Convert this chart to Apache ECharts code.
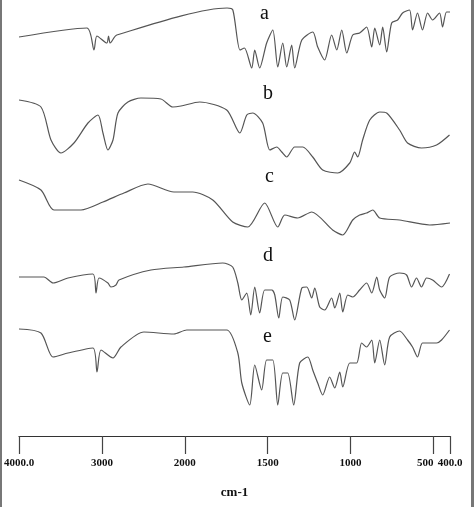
<!DOCTYPE html>
<html><head><meta charset="utf-8">
<script src="https://cdn.jsdelivr.net/npm/echarts@6/dist/echarts.min.js"></script>
<style>html,body{margin:0;padding:0;background:#fff}#c{width:474px;height:507px}</style>
</head><body><div id="c"></div>
<script>
// wavenumber (cm-1), vertical offset (display units, larger = lower)
const specA = [[4000,37],[3180,28],[3095,50],[3060,36],[2940,43],[2920,36],[2900,43],[2820,35],[1745,8],[1710,10],[1667,50],[1640,48],[1596,68],[1578,50],[1548,68],[1506,43],[1469,30],[1439,67],[1409,43],[1385,67],[1355,45],[1337,68],[1294,40],[1228,32],[1198,47],[1156,60],[1114,35],[1083,50],[1053,30],[1023,53],[987,35],[945,33],[903,27],[872,47],[854,28],[824,45],[806,27],[782,52],[752,23],[716,20],[686,13],[644,10],[626,30],[596,13],[566,30],[535,13],[505,20],[463,13],[445,27],[421,12],[400,12]];
const specB = [[4000,100],[3735,107],[3614,140],[3494,153],[3337,143],[3168,123],[3047,115],[2987,133],[2927,150],[2866,140],[2806,113],[2686,102],[2529,98],[2288,99],[2143,107],[2046,106],[1910,102],[1747,110],[1668,133],[1626,115],[1590,113],[1530,123],[1487,150],[1445,147],[1415,152],[1385,157],[1337,147],[1288,147],[1228,157],[1168,170],[1077,173],[1005,163],[975,152],[957,157],[927,140],[884,120],[824,112],[782,113],[704,130],[656,143],[572,148],[481,145],[403,135]];
const specC = [[4000,180],[3735,190],[3578,210],[3252,210],[2987,202],[2734,193],[2444,184],[2131,192],[1952,192],[1831,200],[1711,222],[1620,227],[1518,203],[1439,227],[1397,215],[1319,218],[1234,212],[1108,230],[1047,235],[987,220],[945,215],[903,213],[866,210],[824,218],[704,220],[523,225],[400,223]];
const specD = [[4000,277],[3699,277],[3590,283],[3409,278],[3108,274],[3071,293],[3035,278],[2927,283],[2891,287],[2830,285],[2794,280],[2408,270],[2010,267],[1771,263],[1711,267],[1680,283],[1656,300],[1626,293],[1602,315],[1578,287],[1548,313],[1518,290],[1475,290],[1457,295],[1433,318],[1409,297],[1367,300],[1337,320],[1294,288],[1264,287],[1234,298],[1216,288],[1186,307],[1156,310],[1114,298],[1095,308],[1065,293],[1047,312],[1017,295],[987,297],[945,290],[903,283],[872,293],[842,277],[824,290],[794,298],[764,277],[704,273],[662,275],[632,287],[602,278],[572,287],[541,278],[505,280],[451,287],[403,274]];
const specE = [[4000,329],[3735,333],[3590,357],[3409,353],[3108,348],[3059,372],[3011,350],[2866,358],[2770,347],[2493,332],[2131,334],[1988,330],[1747,330],[1680,353],[1656,383],[1608,405],[1578,365],[1536,390],[1506,360],[1469,360],[1439,405],[1409,373],[1379,373],[1343,405],[1307,363],[1258,357],[1228,370],[1198,383],[1168,395],[1126,377],[1095,388],[1065,372],[1047,387],[1005,363],[963,363],[933,343],[903,347],[872,340],[854,363],[824,340],[794,365],[764,337],[704,331],[656,340],[626,347],[596,357],[566,343],[523,343],[481,343],[451,340],[403,330]];
const tickValues = [4000,3000,2000,1500,1000,400];
const tickLabels = ['4000.0','3000','2000','1500','1000','400.0'];
const extraTick = 500, extraLabel = '500';
const curveNames = ['a','b','c','d','e'];
const labelPos = [[265,15],[268,95],[270,178],[268,257],[268,338]];

function p(wn){ return wn >= 2000 ? (4000-wn)/1000 : 2 + (2000-wn)/500; }
const tickP = tickValues.map(p);
const lbl = {color:'#111',fontFamily:'Liberation Serif',fontWeight:'bold',fontSize:11,margin:22,interval:0,hideOverlap:false};

const chart = echarts.init(document.getElementById('c'));
const specs = [specA,specB,specC,specD,specE];
chart.setOption({
  animation:false,
  grid:{left:19,right:24,top:0,bottom:71},
  xAxis:[{type:'value',min:0,max:5.2,position:'bottom',
    axisLine:{onZero:false,lineStyle:{color:'#333',width:1.2}},
    axisTick:{customValues:tickP,length:18,lineStyle:{color:'#444',width:1.2}},
    axisLabel:Object.assign({customValues:tickP,
      formatter:function(v){const i=tickP.findIndex(t=>Math.abs(t-v)<1e-6);return i>=0?tickLabels[i]:'';}},lbl),
    splitLine:{show:false},
    name:'cm-1',nameLocation:'middle',nameGap:50,
    nameTextStyle:{color:'#111',fontFamily:'Liberation Serif',fontWeight:'bold',fontSize:13}
  },{type:'value',min:0,max:5.2,position:'bottom',
    axisLine:{show:false,onZero:false},
    axisTick:{customValues:[p(extraTick)],length:18,lineStyle:{color:'#444',width:1.2}},
    axisLabel:Object.assign({customValues:[p(extraTick)],formatter:()=>extraLabel,align:'right'},lbl),
    splitLine:{show:false}}],
  yAxis:{type:'value',inverse:true,min:0,max:436,show:false},
  series:specs.map((s,i)=>({type:'line',name:curveNames[i],showSymbol:false,smooth:0.25,
    data:s.map(d=>[p(d[0]),d[1]]),lineStyle:{color:'#555',width:1.2}})),
  graphic:[
    ...curveNames.map((n,i)=>({type:'text',left:labelPos[i][0]-5,top:labelPos[i][1]-11,
      style:{text:n,font:'20px "Liberation Serif"',fill:'#111'}})),
    {type:'rect',shape:{x:0,y:0,width:2,height:507},style:{fill:'#777'}},
    {type:'rect',shape:{x:471,y:0,width:3,height:507},style:{fill:'#777'}}
  ]
});
</script></body></html>
